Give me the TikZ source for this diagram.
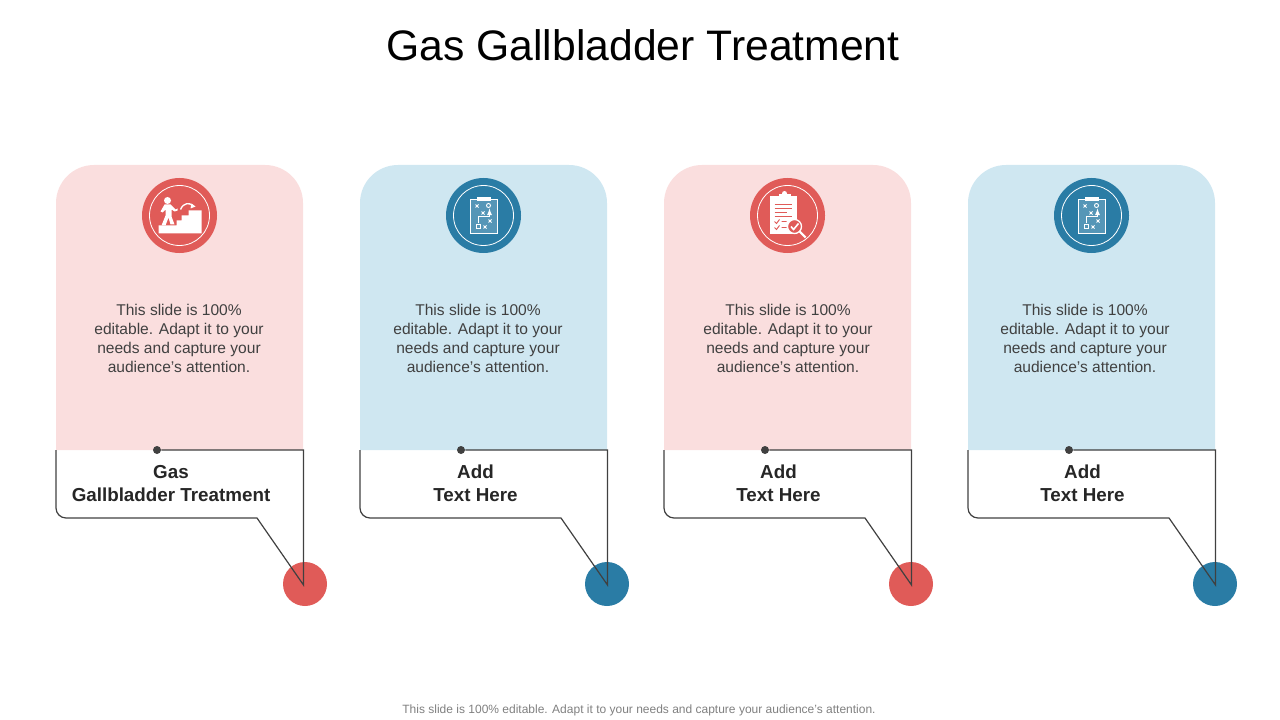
\documentclass[tikz,border=0pt]{standalone}
\usepackage{fontspec}
\setmainfont{Liberation Sans}
\definecolor{softred}{HTML}{FADEDE}
\definecolor{softblue}{HTML}{CFE7F1}
\definecolor{deepred}{HTML}{E05B58}
\definecolor{deepblue}{HTML}{2A7CA5}
\definecolor{inktext}{HTML}{404040}
\tikzset{
  titletext/.style={font=\fontsize{32}{38}\selectfont, text=black},
  bodytext/.style={font=\fontsize{11.67}{14.25}\selectfont, text=inktext, align=center},
  headtext/.style={font=\fontsize{14.1}{17.25}\selectfont\bfseries, text=black!85, align=center},
  foottext/.style={font=\fontsize{9}{11}\selectfont, text=black!50},
  icondisc/.style={circle, inner sep=0pt, minimum size=56.25pt},
  iconring/.style={circle, draw=white, line width=.6pt, inner sep=0pt, minimum size=45pt},
  tipdisc/.style={circle, inner sep=0pt, minimum size=33pt},
  pindot/.style={circle, fill=inktext, inner sep=0pt, minimum size=6pt},
  talkline/.style={draw=inktext, line width=.9pt}
}
% stairs with a walker
\newcommand{\stairicon}[1]{
  \begin{scope}[shift={(#1)}]
    \fill[white] (-21,18) -- (-21,10) -- (-3,10) -- (-3,5) -- (2,5) -- (2,0) -- (9,0) -- (9,-5) -- (22,-5) -- (22,18) -- cycle;
    \fill[white] (-12,-15) circle (3.5);
    \fill[white] (-15,-11) -- (-9,-11) -- (-4,-6) -- (-2,-7) -- (-2,-5) -- (-5,-4) -- (-8,-6) -- (-8,1) -- (-5,9) -- (-9,9) -- (-11,2) -- (-14,10) -- (-18,10) -- (-14,0) -- (-14,-6) -- (-17,-3) -- (-19,-4) -- cycle;
    \draw[white, line width=1pt] (1,-6) .. controls (4,-13) and (10,-13) .. (13,-10);
    \fill[white] (16,-9) -- (11,-7) -- (12,-12) -- cycle;
  \end{scope}}
% clipboard with a play sketched on it
\newcommand{\playicon}[2]{
  \begin{scope}[shift={(#1)}]
    \draw[white, line width=1.1pt, fill=#2!80!white] (-13,-16) rectangle (14,18);
    \fill[white] (-7,-18) rectangle (7,-14);
    \draw[white, line width=.7pt] (-8,-11) -- (-5,-8) (-8,-8) -- (-5,-11) (-2,-4) -- (1,-1) (-2,-1) -- (1,-4) (5,4) -- (8,7) (5,7) -- (8,4) (0,10) -- (3,13) (0,13) -- (3,10);
    \draw[white, line width=.7pt] (5,-10) circle (2) (-7,9) rectangle (-3,13);
    \draw[white, line width=.7pt, -latex] (-5,8) -- (-5,1) -- (6,1) -- (6,-7);
  \end{scope}}
% checklist under a magnifier
\newcommand{\checkicon}[1]{
  \begin{scope}[shift={(#1)}]
    \fill[white] (-18,-19) rectangle (9,19);
    \fill[white] (-9,-21) rectangle (3,-17);
    \fill[white] (-3,-22) circle (2.5);
    \draw[deepred, line width=.8pt] (-13,-11) -- (4,-11) (-13,-7) -- (4,-7) (-13,-3) -- (-1,-3) (-13,1) -- (4,1);
    \draw[deepred, line width=.7pt] (-13,6) -- (-11,8) -- (-8,4) (-6,6) -- (-1,6) (-13,12) -- (-11,14) -- (-8,10) (-6,12) -- (-1,12);
    \draw[white, line width=1.6pt] (12,16) -- (18,22);
    \draw[white, line width=1pt, fill=deepred] (7,11) circle (7);
    \draw[white, line width=1.2pt] (3.5,11) -- (6,14) -- (11,8);
  \end{scope}}
% one card with its callout
\newcommand{\talkcard}[9]{
  \begin{scope}[shift={(#2,0)}]
    \fill[#3] (0,450) [rounded corners=28.5pt] -- (0,165) -- (247,165) [sharp corners] -- (247,450) -- cycle;
    \node[tipdisc, fill=#4] (tip#1) at (#7,584) {};
    \coordinate (corner#1) at (0,450);
    \coordinate (point#1) at (247.5,585);
    \node[pindot] (pin#1) at (101,450) {};
    \draw[talkline] (corner#1) [rounded corners=7.5pt] -- (0,518) [sharp corners] -- (201,518) -- (point#1) -- (247.5,450) -- (pin#1.east);
    \node[icondisc, fill=#4] (disc#1) at (123.5,215.5) {};
    \node[iconring] (ring#1) at (disc#1) {};
    \node[bodytext] (body#1) at (#5,338.5) {This slide is 100\%\\editable. Adapt it to your\\needs and capture your\\audience's attention.};
    \node[headtext] (head#1) at (#6,483.5) {#8};
    #9
  \end{scope}}
\begin{document}
\begin{tikzpicture}[x=.75pt, y=-.75pt]
\useasboundingbox (0,0) rectangle (1280,720);
\node[titletext] (title) at (643,45) {Gas Gallbladder Treatment};

\talkcard{A}{56}{softred}{deepred}{123}{115}{249}{Gas\\Gallbladder Treatment}{\stairicon{123.5,215.5}}
\talkcard{B}{360}{softblue}{deepblue}{118}{115.5}{247}{Add\\Text Here}{\playicon{123.5,215.5}{deepblue}}
\talkcard{C}{664}{softred}{deepred}{124}{114.5}{247}{Add\\Text Here}{\checkicon{123.5,215.5}}
\talkcard{D}{968}{softblue}{deepblue}{117}{114.5}{247}{Add\\Text Here}{\playicon{123.5,215.5}{deepblue}}

\node[foottext] (foot) at (639,710) {This slide is 100\% editable. Adapt it to your needs and capture your audience's attention.};
\end{tikzpicture}
\end{document}
